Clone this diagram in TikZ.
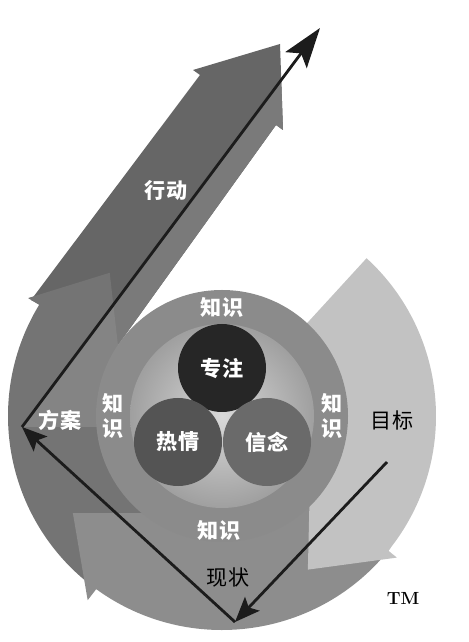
\documentclass[tikz,border=0pt]{standalone}
\usepackage{fontspec}
\newfontfamily\cjk{Noto Sans CJK SC}
\usetikzlibrary{arrows.meta,positioning}

\definecolor{actdark}{HTML}{666666}
\definecolor{actlight}{HTML}{7A7A7A}
\definecolor{plandark}{HTML}{747474}
\definecolor{planlight}{HTML}{848484}
\definecolor{nowarrow}{HTML}{8D8D8D}
\definecolor{goalarc}{HTML}{C2C2C2}
\definecolor{ringgray}{HTML}{8B8B8B}
\definecolor{focusc}{HTML}{262626}
\definecolor{passionc}{HTML}{545454}
\definecolor{beliefc}{HTML}{6A6A6A}
\definecolor{lineblack}{HTML}{1C1C1C}

% outlines that are filled twice (dark, then lighter right of the black line)
\newcommand\actshape{(118,297) -- (276,517) -- (283,512) -- (280,598) -- (193,572) -- (200,567) -- (31,342) -- cycle}
\newcommand\planshape{(234:214) arc[start angle=234, end angle=148.7, radius=214] -- (148.7:227) -- (128.1:182) -- (145.7:126) -- (145.7:122) arc[start angle=145.7, end angle=234, radius=122] -- cycle}

\begin{document}
\begin{tikzpicture}[x=0.03cm, y=0.03cm,
	lbl/.style={font=\cjk\bfseries\fontsize{18}{21}\selectfont, text=white, inner sep=0pt, align=center},
	darklbl/.style={font=\cjk\fontsize{18}{21}\selectfont, text=black, inner sep=0pt},
	ball/.style={circle, minimum size=2.64cm, inner sep=0pt, lbl},
	flow/.style={line width=2.4pt, draw=lineblack, -{Stealth[length=7.5mm, width=6mm, inset=1.5mm]}}]
	\useasboundingbox (0,0) rectangle (468,642);

	% big arrows of the disc
	\fill[actdark] \actshape;
	\fill[plandark, shift={(222,226)}] \planshape;
	\begin{scope}
		\clip (22,215) -- (320,614) -- (468,642) -- (468,215) -- cycle;
		\fill[actlight] \actshape;
		\fill[planlight, shift={(222,226)}] \planshape;
	\end{scope}

	\begin{scope}[shift={(222,226)}]
		\fill[nowarrow] (234:214) arc[start angle=234, end angle=322, radius=214] -- (322:122) arc[start angle=322, end angle=236.2, radius=122] -- (236.2:117) -- (213.1:178) -- (233.9:228) -- cycle;
		\fill[goalarc] (47.5:214) arc[start angle=47.5, end angle=-39, radius=214] -- (-39:225) -- (-60.8:176) -- (-39:113) -- (-39:122) arc[start angle=-39, end angle=47.5, radius=122] -- cycle;

		% knowledge ring and core
		\fill[ringgray] (0,0) circle[radius=126];
		\shade[inner color=gray!30, outer color=gray!75] (0,0) circle[radius=92];
		\node[ball, fill=focusc] (focus) at (0,48) {专注};
		\node[ball, fill=passionc] (passion) at (-44,-26) {热情};
		\node[ball, fill=beliefc] (belief) at (45,-26) {信念};

		\node[lbl] (kntop) at (0,109) {知识};
		\node[lbl] (knleft) at (-109,0) {知\\识};
		\node[lbl] (knright) at (110,0) {知\\识};
		\node[lbl] (knbottom) at (-3,-114) {知识};
	\end{scope}

	\node[lbl] (act) at (166,452) {行动};
	\node[lbl] (plan) at (60,222) {方案};
	\node[darklbl] (goal) at (392,222) {目标};
	\node[darklbl] (now) at (228,64) {现状};
	\node[font=\bfseries\fontsize{15}{18}\selectfont] (tm) at (403,44) {TM};

	\coordinate (goalpt) at (387,180);
	\coordinate (nowpt) at (235,20);
	\coordinate (planpt) at (22,215);
	\coordinate (actpt) at (320,614);
	\draw[flow] (goalpt) -- (nowpt);
	\draw[flow] (nowpt) -- (planpt);
	\draw[flow, -{Stealth[length=12mm, width=8mm, inset=2.5mm]}] (planpt) -- (actpt);
\end{tikzpicture}
\end{document}
